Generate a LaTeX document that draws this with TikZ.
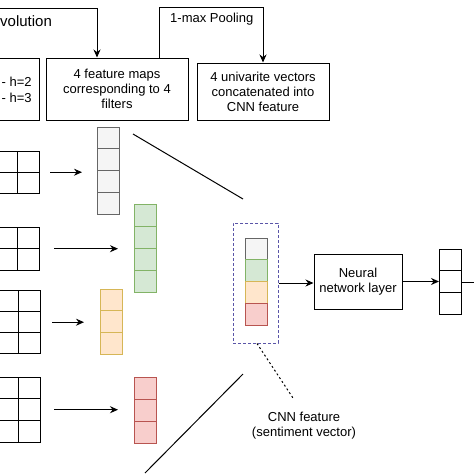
\documentclass[tikz,border=0pt]{standalone}
\usepackage{fontspec}
\setmainfont{Liberation Sans}
\usetikzlibrary{arrows.meta,calc}
\definecolor{grayF}{HTML}{F5F5F5}\definecolor{grayD}{HTML}{666666}
\definecolor{greenF}{HTML}{D5E8D4}\definecolor{greenD}{HTML}{82B366}
\definecolor{yelF}{HTML}{FFE6CC}\definecolor{yelD}{HTML}{D6B656}
\definecolor{redF}{HTML}{F8CECC}\definecolor{redD}{HTML}{B85450}
\definecolor{dashC}{HTML}{5A55A8}
\begin{document}
\begin{tikzpicture}[x=1pt,y=-1pt,
  txt/.style={font=\fontsize{13}{15}\selectfont, align=center, inner sep=0},
  box/.style={draw, line width=1pt, inner sep=0, txt},
  arr/.style={line width=1pt, -{Stealth[length=8pt,width=7pt]}},
  ln/.style={line width=1pt},
  whole/.style={inner sep=0, draw=none, minimum width=22pt},
]
\useasboundingbox (0,0) rectangle (474,474);
\clip (0,0) rectangle (474,474);
\fill[white] (0,0) rectangle (474,474);

% top boxes
\node[box, minimum width=100pt, minimum height=62pt] (fl) at (-11,89) {};
\node[txt, anchor=west] (h2) at (1.5,82) {- h=2};
\node[txt, anchor=west] (h3) at (1.5,98) {- h=3};
\node[box, minimum width=142pt, minimum height=62pt] (fm) at (117,89) {4 feature maps\\corresponding to 4\\filters};
\node[box, minimum width=132pt, minimum height=57pt] (uv) at (263,91.5) {4 univarite vectors\\concatenated into\\CNN feature};

\node[txt, font=\fontsize{15}{17}\selectfont, anchor=west] (conv) at (0,21) {volution};
\node[txt, anchor=west] (pool) at (170,19) {1-max Pooling};
\coordinate (c0) at (-2,8);
\draw[arr] (c0) -| ([xshift=-20pt]fm.north);
\draw[arr] ([xshift=42pt]fm.north) -- ++(0,-50) -| (uv.north);

% input grids
\newcommand\grid[5]{% name, xleft, ytop, rows, rowheight
  \node[inner sep=0, minimum width=44pt, minimum height=#4*#5 pt, anchor=north west] (#1) at (#2,#3) {};
  \foreach \r in {1,...,#4}{
    \draw[ln] (#2,#3+\r*#5-#5) rectangle ++(22,#5);
    \draw[ln] (#2+22,#3+\r*#5-#5) rectangle ++(22,#5);
  }}
\grid{g1}{-5}{151}{2}{21}
\grid{g2}{-5}{227}{2}{21.5}
\grid{g3}{-4}{290}{3}{21.33}
\grid{g4}{-4}{377}{3}{21.67}

% vectors
\newcommand\vect[7]{% name, xleft, ytop, n, cellh, fill, draw
  \node[whole, minimum height=#4*#5 pt, anchor=north west] (#1) at (#2,#3) {};
  \foreach \r in {1,...,#4}{
    \draw[fill=#6, draw=#7, line width=0.9pt] (#2,#3+\r*#5-#5) rectangle ++(22,#5);
  }}
\vect{v1}{97}{127}{4}{21.75}{grayF}{grayD}
\vect{v2}{134}{204}{4}{22}{greenF}{greenD}
\vect{v3}{100}{289}{3}{21.67}{yelF}{yelD}
\vect{v4}{134}{377}{3}{22}{redF}{redD}

\draw[arr, shorten <=11pt, shorten >=15pt] (g1.east) -- (g1.east -| v1.west);
\draw[arr, shorten <=15pt, shorten >=16pt] (g2.east) -- (g2.east -| v2.west);
\draw[arr, shorten <=12pt, shorten >=16pt] (g3.east) -- (g3.east -| v3.west);
\draw[arr, shorten <=14pt, shorten >=16pt] (g4.east) -- (g4.east -| v4.west);

% CNN feature
\node[draw=dashC, line width=1pt, dash pattern=on 3pt off 2pt, inner sep=0, minimum width=45pt, minimum height=120pt] (cnn) at (255.5,283) {};
\vect{v5}{245}{238}{4}{21.75}{grayF}{grayD}
\draw[fill=greenF, draw=greenD, line width=0.9pt] (245,259.75) rectangle ++(22,21.75);
\draw[fill=yelF, draw=yelD, line width=0.9pt] (245,281.5) rectangle ++(22,21.75);
\draw[fill=redF, draw=redD, line width=0.9pt] (245,303.25) rectangle ++(22,21.75);

\coordinate (d1a) at (133,134); \coordinate (d1b) at (243,199);
\coordinate (d2a) at (243,374); \coordinate (d2b) at (145,473);
\draw[ln] (d1a) -- (d1b);
\draw[ln] (d2a) -- (d2b);

\node[box, minimum width=88pt, minimum height=55pt] (nn) at (358,281.5) {Neural\\network layer};
\node[whole, minimum height=65pt, anchor=north west] (out) at (439,249) {};
\foreach \r in {0,1,2}{\draw[ln] (439,249+\r*21.67) rectangle ++(22,21.67);}

\draw[arr] (cnn.east) -- (cnn.east -| nn.west);
\draw[arr] (nn.east) -- (nn.east -| out.west);
\coordinate (oend) at (476,282);
\draw[ln] (out.east |- oend) -- (oend);

\node[txt] (lab) at (304,426) {CNN feature\\(sentiment vector)};
\draw[line width=1pt, dash pattern=on 2pt off 2.5pt] ([xshift=1.5pt]cnn.south) -- (293,398);
\end{tikzpicture}
\end{document}
